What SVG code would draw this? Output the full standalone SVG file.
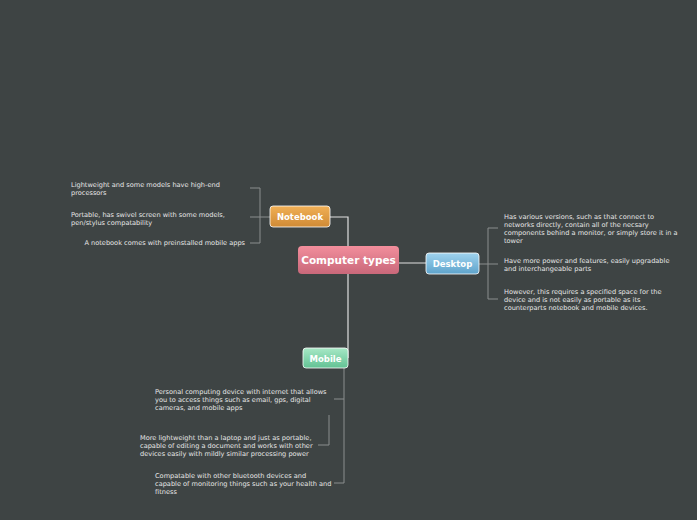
<svg xmlns="http://www.w3.org/2000/svg" width="697" height="520" viewBox="0 0 697 520">
<defs>
<linearGradient id="gc" x1="0" y1="0" x2="0" y2="1"><stop offset="0" stop-color="#f28e9c"/><stop offset="1" stop-color="#c9687a"/></linearGradient>
<linearGradient id="gn" x1="0" y1="0" x2="0" y2="1"><stop offset="0" stop-color="#f1b056"/><stop offset="1" stop-color="#cf8a35"/></linearGradient>
<linearGradient id="gd" x1="0" y1="0" x2="0" y2="1"><stop offset="0" stop-color="#9fd3ee"/><stop offset="1" stop-color="#5ea3cb"/></linearGradient>
<linearGradient id="gm" x1="0" y1="0" x2="0" y2="1"><stop offset="0" stop-color="#a7e8c6"/><stop offset="1" stop-color="#62c294"/></linearGradient>
</defs>
<style>
.t{font-family:"DejaVu Sans",sans-serif;font-size:6.6px;fill:#e6e6e6}
.n{font-family:"DejaVu Sans",sans-serif;font-weight:bold;font-size:8.5px;fill:#fff;text-anchor:middle}
.l{fill:none;stroke:#8a8e8e;stroke-width:1}
.m{fill:none;stroke:#e0e0e0;stroke-width:1.2}
</style>
<rect width="697" height="520" fill="#3e4444"/>
<g id="connectors">
<path class="m" d="M330 217H348V246M348 274V358M399 263H426"/>
<path class="l" d="M270 217H260M250 188H260V243H250M250 217H260"/>
<path class="l" d="M479 264H488M498 228H488V299H498M488 264H498"/>
<path class="l" d="M344 368V483H334M344 399H334M329 415V445H318"/>
</g>
<g id="center"><rect x="298" y="246" width="101" height="28" rx="4" fill="url(#gc)"/><text class="n" x="348.500" y="264" style="font-size:10.5px">Computer types</text></g>
<g id="notebook"><rect x="270" y="206" width="60" height="21" rx="3" fill="url(#gn)" stroke="#fff" stroke-width="0.8"/><text class="n" x="300" y="220">Notebook</text></g>
<g id="desktop"><rect x="426" y="253" width="53" height="21" rx="3" fill="url(#gd)" stroke="#fff" stroke-width="0.8"/><text class="n" x="452.500" y="267">Desktop</text></g>
<g id="mobile"><rect x="303" y="348" width="45" height="20" rx="3" fill="url(#gm)" stroke="#fff" stroke-width="0.8"/><text class="n" x="325.500" y="362">Mobile</text></g>
<g id="nb-items">
<text class="t" x="71" y="187">Lightweight and some models have high-end</text><text class="t" x="71" y="195">processors</text>
<text class="t" x="71" y="217">Portable, has swivel screen with some models,</text><text class="t" x="71" y="225">pen/stylus compatability</text>
<text class="t" x="245" y="245" text-anchor="end">A notebook comes with preinstalled mobile apps</text>
</g>
<g id="dt-items">
<text class="t" x="504" y="219">Has various versions, such as that connect to</text><text class="t" x="504" y="227">networks directly, contain all of the necsary</text><text class="t" x="504" y="235">components behind a monitor, or simply store it in a</text><text class="t" x="504" y="243">tower</text>
<text class="t" x="504" y="263">Have more power and features, easily upgradable</text><text class="t" x="504" y="271">and interchangeable parts</text>
<text class="t" x="504" y="294">However, this requires a specified space for the</text><text class="t" x="504" y="302">device and is not easily as portable as its</text><text class="t" x="504" y="310">counterparts notebook and mobile devices.</text>
</g>
<g id="mb-items">
<text class="t" x="155" y="394">Personal computing device with internet that allows</text><text class="t" x="155" y="402">you to access things such as email, gps, digital</text><text class="t" x="155" y="410">cameras, and mobile apps</text>
<text class="t" x="140" y="440">More lightweight than a laptop and just as portable,</text><text class="t" x="140" y="448">capable of editing a document and works with other</text><text class="t" x="140" y="456">devices easily with mildly similar processing power</text>
<text class="t" x="155" y="478">Compatable with other bluetooth devices and</text><text class="t" x="155" y="486">capable of monitoring things such as your health and</text><text class="t" x="155" y="494">fitness</text>
</g>
</svg>
